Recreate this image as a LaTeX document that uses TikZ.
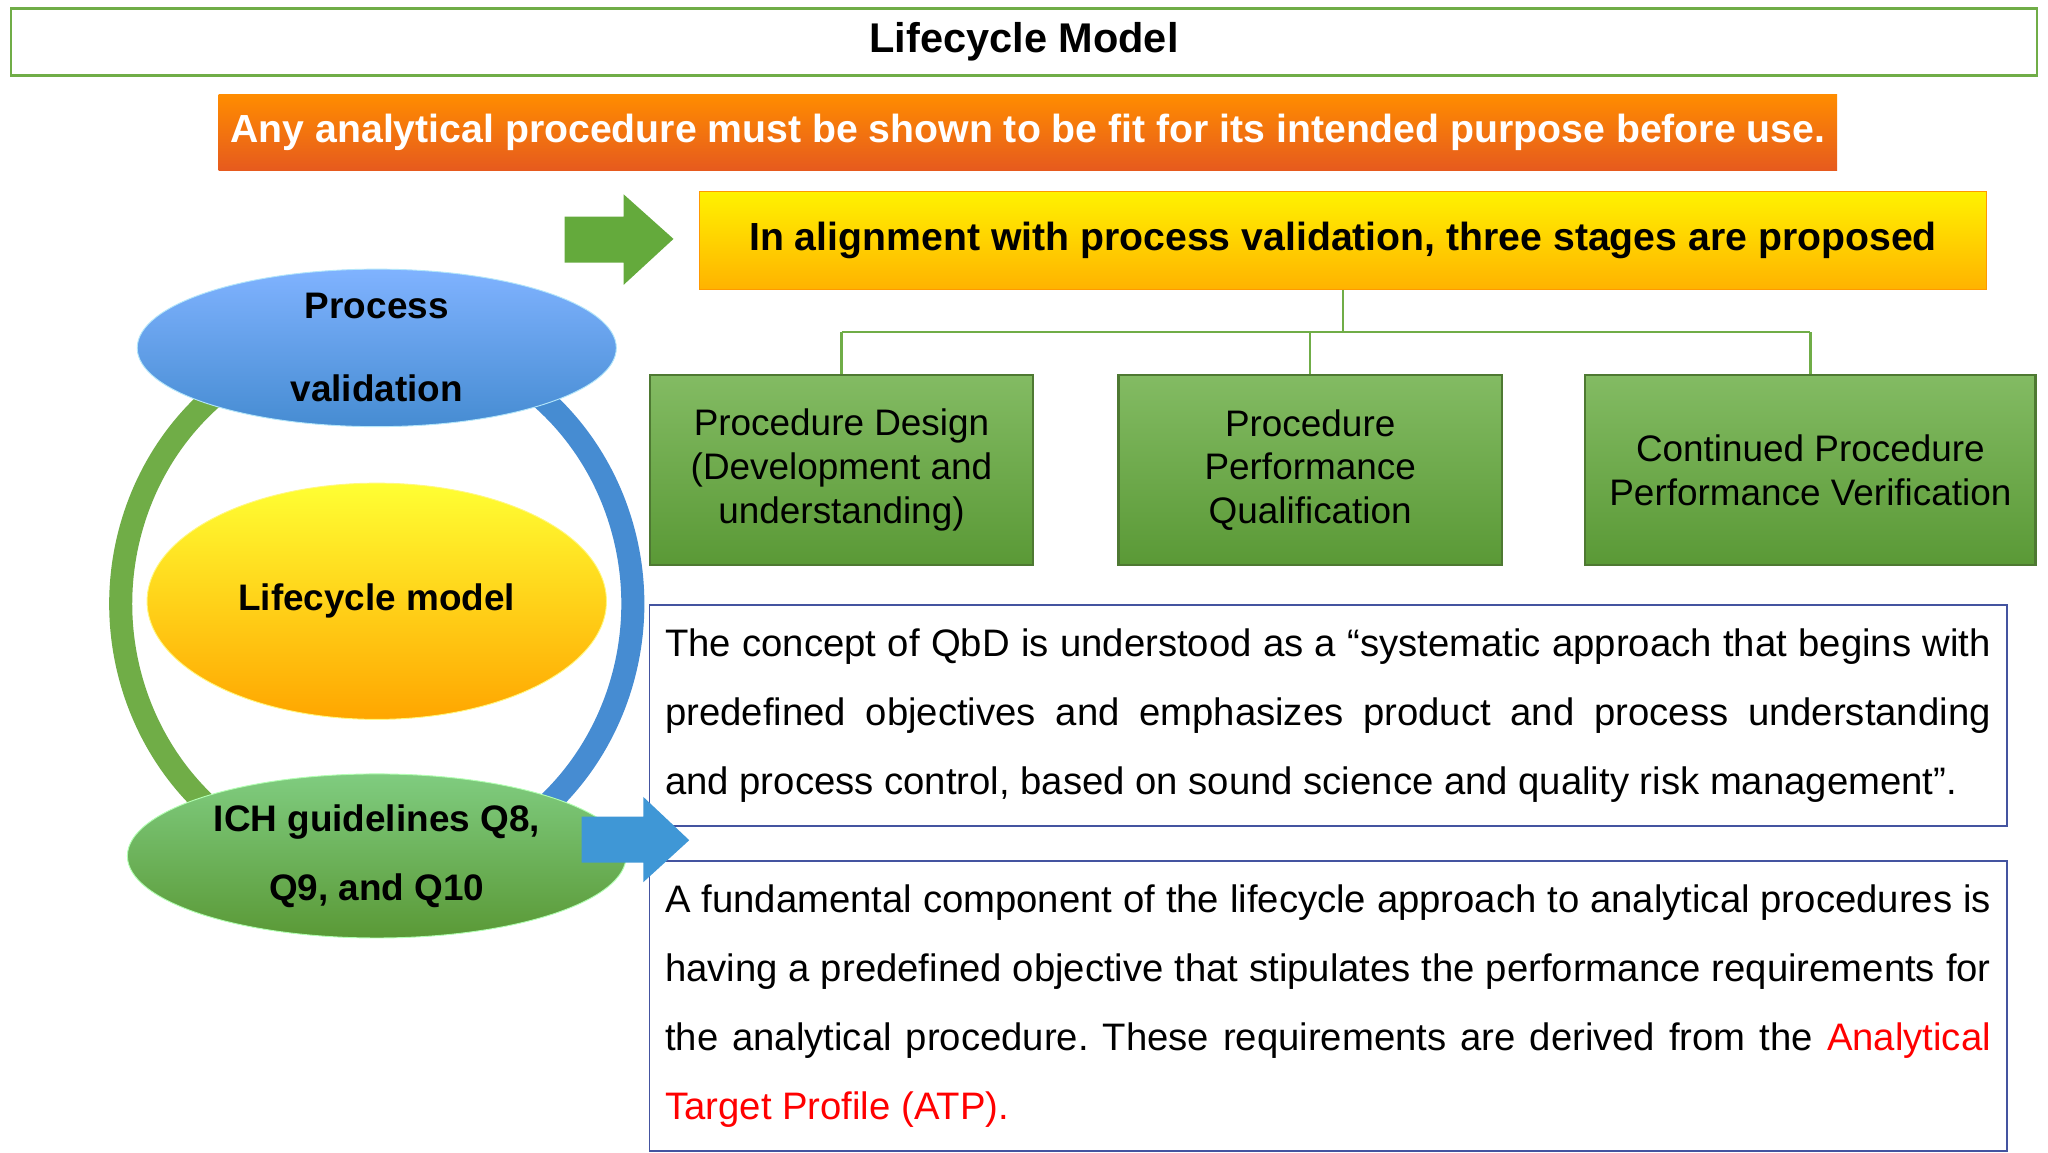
\documentclass[tikz,border=0pt]{standalone}
\usepackage{fontspec}
\setmainfont{Liberation Sans}
\usetikzlibrary{shapes.geometric}
\definecolor{gborder}{RGB}{112,173,71}
\definecolor{gfill}{RGB}{100,170,60}
\definecolor{bborder}{RGB}{68,84,160}
\definecolor{ored}{RGB}{230,90,30}
\definecolor{ringblue}{RGB}{70,140,210}
\begin{document}
\frenchspacing
\begin{tikzpicture}[x=0.02cm,y=-0.02cm,
  stage/.style={draw=gborder!70!black,line width=1pt,top color=gfill!80!white,bottom color=gfill!90!black,minimum width=#1,minimum height=2.9cm,align=center,font=\fontsize{16}{19}\selectfont,inner sep=0pt},
  tbox/.style={draw=bborder,line width=0.8pt,anchor=north west,align=justify,text width=20.2cm,font=\fontsize{16.6}{30}\selectfont,inner xsep=0.24cm,inner ysep=0.36cm},
  ell/.style={ellipse,align=center,font=\bfseries\fontsize{16}{36}\selectfont,inner sep=0pt}]
\useasboundingbox (0,0) rectangle (1560,878);
\fill[white] (0,0) rectangle (1560,878);
\node[draw=gborder,line width=1pt,minimum width=30.88cm,minimum height=1.02cm,font=\bfseries\fontsize{18}{20}\selectfont] (title) at (780,32) {Lifecycle Model};
\node[top color=orange!90!yellow,bottom color=ored,minimum width=24.66cm,minimum height=1.16cm,text=white,font=\bfseries\fontsize{17}{19}\selectfont] (banner) at (783,101) {Any analytical procedure must be shown to be fit for its intended purpose before use.};
\fill[gfill] (430,165) -- (475,165) -- (475,148) -- (513,182) -- (475,217) -- (475,200) -- (430,200) -- cycle;
\node[draw=orange!80!yellow,top color=yellow!90!orange,bottom color=orange!60!yellow,minimum width=19.6cm,minimum height=1.5cm,font=\bfseries\fontsize{17}{19}\selectfont] (align) at (1023,183) {In alignment with process validation, three stages are proposed};
\node[stage=5.84cm] (s1) at (641,358) {Procedure Design\\(Development and\\understanding)};
\node[stage=5.84cm] (s2) at (998,358) {Procedure\\Performance\\Qualification};
\node[stage=6.86cm] (s3) at (1379,358) {Continued Procedure\\Performance Verification};
\coordinate (j) at (1023,253);
\draw[gborder,line width=1pt] (align.south) -- (j);
\draw[gborder,line width=1pt] (641,253) -- (1379,253);
\draw[gborder,line width=1pt] (641,253) -- (s1.north);
\draw[gborder,line width=1pt] (998,253) -- (s2.north);
\draw[gborder,line width=1pt] (1379,253) -- (s3.north);
\node[tbox,minimum height=3.3cm] (t1) at (494,460) {\hyphenpenalty=10000 The concept of QbD is understood as a “systematic approach that begins with\linebreak predefined objectives and emphasizes product and process understanding\linebreak and process control, based on sound science and quality risk management”.};
\node[tbox,minimum height=4.2cm] (t2) at (494,655) {\hyphenpenalty=10000 A fundamental component of the lifecycle approach to analytical procedures is having a predefined objective that stipulates the performance requirements for the analytical procedure. These requirements are derived from the \textcolor{red}{Analytical Target Profile (ATP).}};
% ring
\draw[gborder,line width=10pt] (287,460) ++(110:195 and 205) arc[start angle=110,end angle=250,x radius=195,y radius=205];
\draw[ringblue,line width=10pt] (287,460) ++(70:195 and 205) arc[start angle=70,end angle=-70,x radius=195,y radius=205];
\node[ell,top color=cyan!40!blue!50,bottom color=ringblue,draw=cyan!30,minimum width=7.3cm,minimum height=2.4cm] (pv) at (287,265) {Process\\validation};
\node[ell,top color=yellow!80,bottom color=orange!70!yellow,draw=yellow!50,minimum width=7.0cm,minimum height=3.6cm] (lm) at (287,458) {Lifecycle model};
\node[ell,top color=green!60!black!50,bottom color=gfill!90!black,draw=green!30,minimum width=7.6cm,minimum height=2.5cm,font=\bfseries\fontsize{16}{30}\selectfont] (ich) at (287,652) {ICH guidelines Q8,\\Q9, and Q10};
\fill[ringblue!90!cyan] (443,622) -- (490,622) -- (490,607) -- (525,640) -- (490,672) -- (490,657) -- (443,657) -- cycle;
\end{tikzpicture}
\end{document}
